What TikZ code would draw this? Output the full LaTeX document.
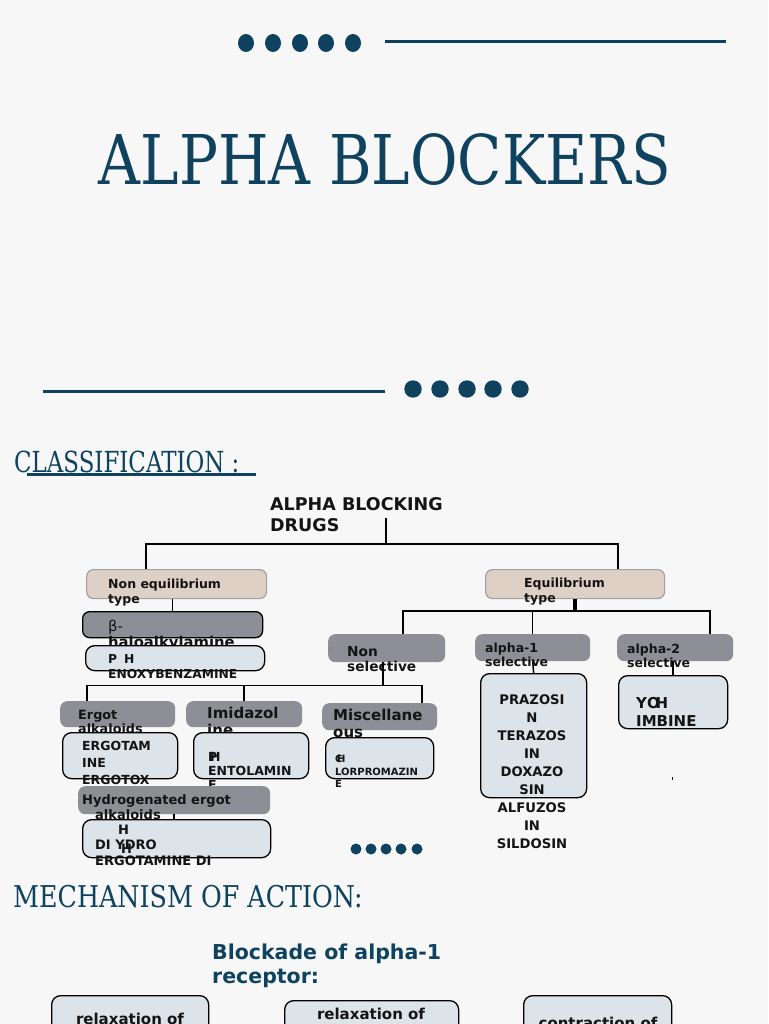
\documentclass[tikz,border=0pt]{standalone}
\usepackage{fontspec}
\setmainfont{DejaVu Sans}
\newfontfamily\titlefont[FakeStretch=0.845]{DejaVu Serif}
\newfontfamily\classfont[FakeStretch=0.79]{DejaVu Serif}
\newfontfamily\mechheadfont[FakeStretch=0.845]{DejaVu Serif}
\newcommand{\fsz}[2]{\fontsize{#1}{#2}\selectfont}

\definecolor{deepteal}{RGB}{14,66,94}
\definecolor{pagebg}{RGB}{247,247,247}
\definecolor{tanfill}{RGB}{222,208,196}
\definecolor{tanline}{RGB}{160,160,165}
\definecolor{grayfill}{RGB}{142,143,150}
\definecolor{lightfill}{RGB}{220,227,233}

\tikzset{
  boxwh/.style 2 args={anchor=north west, inner sep=0pt, minimum width=#1pt, minimum height=#2pt},
  tanbox/.style={fill=tanfill, draw=tanline, line width=1.2pt, rounded corners=7pt},
  graybox/.style={fill=grayfill, rounded corners=7pt},
  lightbox/.style={fill=lightfill, draw=black, line width=1.3pt, rounded corners=9pt},
  lbl/.style={anchor=north west, inner sep=0pt, align=left, text=black!92},
  tree/.style={line width=1.5pt, black}
}

\begin{document}
\begin{tikzpicture}[x=1pt,y=-1pt]
\useasboundingbox (0,0) rectangle (768,1024);
\fill[pagebg] (0,0) rectangle (768,1024);

% title band
\foreach \x in {246,273,300,326,353}
  \fill[deepteal] (\x,43) ellipse (8pt and 9pt);
\draw[deepteal, line width=3pt] (385,42) -- (726,42);
\node[anchor=base, inner sep=0pt, text=deepteal, font=\titlefont\fsz{68.6}{80}] (title) at (385,185) {ALPHA BLOCKERS};
\draw[deepteal, line width=3pt] (43,391) -- (385,391);
\foreach \x in {413,440,467,493,520}
  \fill[deepteal] (\x,389) ellipse (8.7pt and 8.7pt);

% classification
\node[anchor=base west, inner sep=0pt, text=deepteal, font=\classfont\fsz{29}{34}] (classhead) at (14,472) {CLASSIFICATION :};
\draw[deepteal, line width=3pt] (27,474.5) -- (256,474.5);
\node[lbl, font=\bfseries\fsz{17.5}{21}] (drugs) at (270,497) {ALPHA BLOCKING\\DRUGS};

\node[tanbox, boxwh={180}{29}] (noneq) at (86,569) {};
\node[tanbox, boxwh={179}{29}] (eq) at (485,569) {};
\node[lbl, font=\bfseries\fsz{12.5}{15}] (noneqT) at (108,579) {Non equilibrium\\type};
\node[lbl, font=\bfseries\fsz{12.5}{15}] (eqT) at (524,578) {Equilibrium\\type};

\node[graybox, draw=black, line width=1.3pt, boxwh={180}{26}] (halo) at (82,611) {};
\node[lbl, font=\bfseries\fsz{14.8}{16}] (haloT) at (108,620) {{\mdseries β-}\\haloalkylamine};
\node[lightbox, boxwh={179}{25}] (phenoxy) at (85,645) {};
\node[lbl, font=\bfseries\fsz{12.3}{15}] (phenoxyT) at (108,654.5) {P\kern7pt H\\ENOXYBENZAMINE};

\node[graybox, boxwh={117}{28}] (nonsel) at (328,634) {};
\node[graybox, boxwh={115}{27}] (alpha1) at (475,634) {};
\node[graybox, boxwh={116}{27}] (alpha2) at (617,634) {};
\node[lbl, font=\bfseries\fsz{13.7}{15}] (nonselT) at (347,646) {Non\\selective};
\node[lbl, font=\bfseries\fsz{12.5}{14}] (alpha1T) at (485,643) {alpha-1\\selective};
\node[lbl, font=\bfseries\fsz{12.5}{14}] (alpha2T) at (627,644) {alpha-2\\selective};

\node[lightbox, boxwh={106}{124}] (prazo) at (480,673) {};
\node[lbl, anchor=north, align=center, font=\bfseries\fsz{13.2}{18}] (prazoT) at (532,694.5)
  {PRAZOSI\\N\\TERAZOS\\IN\\DOXAZO\\SIN\\ALFUZOS\\IN\\SILDOSIN};
\node[lightbox, boxwh={109}{53}] (yohim) at (618,675) {};
\node[lbl, font=\bfseries\fsz{15}{18}] (yohimT) at (636,697) {Y\rlap{O}\kern8.5pt H\\IMBINE};
\draw[line width=0.8pt] (672,777) -- (672,779.5);

\node[graybox, boxwh={115}{26}] (ergot) at (60,701) {};
\node[graybox, boxwh={116}{26}] (imid) at (186,701) {};
\node[graybox, boxwh={115}{27}] (misc) at (322,703) {};
\node[lbl, font=\bfseries\fsz{12.8}{14}] (ergotT) at (78,710) {Ergot\\alkaloids};
\node[lbl, font=\bfseries\fsz{15}{17}] (imidT) at (207,707) {Imidazol\\ine};
\node[lbl, font=\bfseries\fsz{15}{17}] (miscT) at (333,709) {Miscellane\\ous};

\node[lightbox, boxwh={115}{46}] (ergotam) at (62,732) {};
\node[lbl, font=\bfseries\fsz{12.5}{17}] (ergotamT) at (82,741) {ERGOTAM\\INE\\ERGOTOX};
\node[lightbox, boxwh={115}{46}] (phent) at (193,732) {};
\node[lbl, font=\bfseries\fsz{12.5}{14}] (phentT) at (208,752) {\rlap{P}\kern2pt H\\ENTOLAMIN\\E};
\node[lightbox, boxwh={108}{41}] (chlor) at (325,737) {};
\node[lbl, font=\bfseries\fsz{10}{12.5}] (chlorT) at (335,755) {\rlap{C}\kern2pt H\\LORPROMAZIN\\E};

\node[graybox, boxwh={192}{28}] (hydro) at (78,786) {};
\node[lbl, font=\bfseries\fsz{13}{15}] (hydroT) at (82,794) {Hydrogenated ergot\\\kern13pt alkaloids};
\node[lightbox, boxwh={188}{38}] (dihydro) at (82,819) {};
\node[lbl, font=\bfseries\fsz{13}{16}] (dihydroH) at (118,825) {H};
\node[lbl, font=\bfseries\fsz{13}{16}] (dihydroT) at (95,839.5) {DI YDRO\\ERGOTAMINE DI};
\node[lbl, font=\bfseries\fsz{13}{16}] (dihydroHH) at (121,843.5) {H};

% connectors
\coordinate (stemtop) at (386,518);
\coordinate (j0) at (386,544);
\coordinate (jL) at (146,544);
\coordinate (jR) at (618,544);
\draw[tree] (stemtop) -- (j0);
\draw[tree] (noneq.north -| jL) -- (jL) -- (jR) -- (eq.north -| jR);
\draw[tree] (halo.north |- noneq.south) -- (halo.north);
\coordinate (nsJ) at (403,611);
\coordinate (a2J) at (710,611);
\draw[tree, line width=3.5pt] (eq.south) -- (eq.south |- nsJ);
\draw[tree] (nonsel.north -| nsJ) -- (nsJ) -- (a2J) -- (alpha2.north -| a2J);
\draw[tree] (alpha1.north) -- (alpha1.north |- nsJ);
\draw[tree] (alpha1.south) -- (prazo.north);
\draw[tree] (yohim.north) -- (yohim.north |- alpha2.south);
\coordinate (nsB) at (383,685.5);
\coordinate (b1) at (87,685.5);
\coordinate (b4) at (422,685.5);
\draw[tree] (nonsel.south -| nsB) -- (nsB);
\draw[tree] (ergot.north -| b1) -- (b1) -- (b4) -- (misc.north -| b4);
\draw[tree] (imid.north) -- (imid.north |- b1);
\draw[tree] (hydro.south) -- (hydro.south |- dihydro.north);

\foreach \x in {356,371,386,401,417}
  \fill[deepteal] (\x,849) circle (5.5pt);

% mechanism of action
\node[anchor=base west, inner sep=0pt, text=deepteal, font=\mechheadfont\fsz{30}{36}] (mechhead) at (13,907) {MECHANISM OF ACTION:};
\node[lbl, text=deepteal, font=\bfseries\fsz{20.5}{24}] (blockade) at (212,944) {Blockade of alpha-1\\receptor:};
\node[lightbox, boxwh={157}{60}] (relaxA) at (51,995) {};
\node[lightbox, boxwh={174}{60}] (relaxB) at (284,1000) {};
\node[lightbox, boxwh={148}{60}] (contr) at (523,995) {};
\node[lbl, anchor=north, font=\bfseries\fsz{15}{18}] (relaxAT) at (130,1013) {relaxation of};
\node[lbl, anchor=north, font=\bfseries\fsz{15}{18}] (relaxBT) at (371,1008) {relaxation of};
\node[lbl, anchor=north, font=\bfseries\fsz{15}{18}] (contrT) at (598,1017) {contraction of};
\end{tikzpicture}
\end{document}
